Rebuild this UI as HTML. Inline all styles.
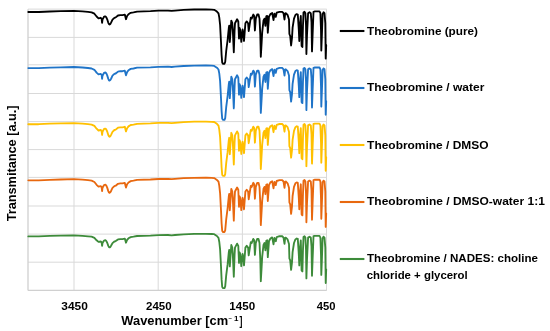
<!DOCTYPE html>
<html><head><meta charset="utf-8"><title>FTIR spectra</title><style>
html,body{margin:0;padding:0;background:#fff;width:550px;height:331px;overflow:hidden}
svg{display:block}
text{font-family:"Liberation Sans",sans-serif;fill:#000}
</style></head><body>
<svg width="550" height="331" viewBox="0 0 550 331">
<rect width="550" height="331" fill="#fff"/>
<g stroke="#d9d9d9" stroke-width="1" fill="none">
<line x1="28.0" y1="9.10" x2="326.7" y2="9.10"/>
<line x1="28.0" y1="37.40" x2="326.7" y2="37.40"/>
<line x1="28.0" y1="64.80" x2="326.7" y2="64.80"/>
<line x1="28.0" y1="93.50" x2="326.7" y2="93.50"/>
<line x1="28.0" y1="121.60" x2="326.7" y2="121.60"/>
<line x1="28.0" y1="149.60" x2="326.7" y2="149.60"/>
<line x1="28.0" y1="177.40" x2="326.7" y2="177.40"/>
<line x1="28.0" y1="206.00" x2="326.7" y2="206.00"/>
<line x1="28.0" y1="234.10" x2="326.7" y2="234.10"/>
<line x1="28.0" y1="262.20" x2="326.7" y2="262.20"/>
<line x1="74.0" y1="9.3" x2="74.0" y2="290.4"/>
<line x1="158.2" y1="9.3" x2="158.2" y2="290.4"/>
<line x1="242.4" y1="9.3" x2="242.4" y2="290.4"/>
<line x1="326.5" y1="9.3" x2="326.5" y2="290.4"/>
</g>
<g stroke="#d0d0d0" stroke-width="1.3" fill="none">
<line x1="28.0" y1="9.3" x2="28.0" y2="290.4"/>
<line x1="28.0" y1="290.4" x2="326.7" y2="290.4"/>
</g>
<g fill="none" stroke-width="1.85" stroke-linejoin="round" stroke-linecap="round">
<path d="M28.3,12.0 L38.7,12.0 L49.8,11.5 L60.7,11.2 L73.8,10.9 L82.5,11.4 L88.0,11.9 L91.6,12.4 L94.4,13.7 L96.6,16.5 L98.5,18.3 L100.7,17.8 L101.6,18.7 L102.1,22.8 L102.5,19.6 L103.9,16.9 L104.6,16.5 L105.4,16.4 L106.2,17.1 L107.2,19.3 L108.3,22.8 L109.0,24.2 L109.6,24.5 L110.3,24.0 L111.2,22.4 L112.5,19.6 L114.4,17.8 L115.7,17.4 L118.0,15.5 L120.3,15.1 L122.5,15.1 L124.8,14.6 L126.0,19.2 L127.1,16.0 L128.5,14.2 L130.7,12.8 L133.5,12.4 L137.1,11.6 L150.5,11.2 L158.5,10.7 L168.0,10.6 L171.6,10.9 L175.0,10.6 L183.6,9.9 L194.2,9.5 L206.0,9.4 L211.6,9.6 L214.2,9.8 L216.9,11.6 L218.5,13.4 L219.3,17.6 L220.1,25.0 L221.0,42.0 L221.6,55.0 L222.2,62.5 L222.9,63.7 L224.5,63.7 L225.2,62.0 L226.2,51.0 L227.6,40.0 L228.8,28.0 L229.2,25.6 L229.8,42.0 L231.3,20.6 L232.3,23.2 L232.8,30.0 L233.8,52.3 L234.6,30.0 L235.0,23.2 L237.1,19.2 L238.3,21.5 L239.0,38.5 L239.6,28.0 L240.3,30.0 L241.3,41.8 L242.6,29.5 L243.3,33.0 L244.0,41.0 L245.4,23.2 L246.7,21.4 L248.1,23.2 L248.7,31.0 L249.9,23.2 L250.8,17.7 L251.7,18.6 L253.3,14.5 L254.2,15.9 L254.9,30.5 L255.8,18.6 L257.2,14.5 L258.5,14.5 L259.5,18.6 L260.3,35.0 L260.8,56.8 L261.5,45.0 L262.2,32.3 L263.5,20.5 L264.5,18.6 L265.4,25.9 L266.3,16.4 L267.2,15.9 L267.8,32.7 L269.0,16.8 L270.4,14.1 L272.2,13.0 L273.5,20.0 L274.5,13.6 L275.8,16.8 L276.7,12.7 L279.5,11.8 L282.2,11.8 L283.5,13.2 L284.5,19.5 L285.2,13.5 L285.8,13.2 L287.6,15.0 L289.0,19.5 L289.4,34.0 L290.2,36.0 L291.1,45.5 L292.0,38.0 L292.6,27.7 L294.0,18.6 L295.4,15.0 L296.7,14.1 L297.8,14.5 L298.8,30.0 L299.3,41.0 L299.9,25.0 L300.8,16.0 L301.6,46.0 L302.4,47.0 L303.0,25.0 L303.5,12.5 L304.5,11.8 L305.4,13.2 L306.0,25.0 L306.4,54.0 L307.0,35.0 L308.1,13.2 L309.5,12.3 L310.8,13.2 L311.5,22.0 L312.0,51.4 L312.6,35.0 L313.5,11.8 L314.9,11.4 L319.5,11.4 L320.4,13.2 L321.0,30.0 L321.3,50.5 L321.9,35.0 L322.6,14.1 L323.5,12.3 L324.5,13.2 L325.3,23.2 L325.7,58.6 L326.2,45.0" stroke="#000000"/>
<path d="M28.3,68.1 L38.7,68.1 L49.8,67.6 L60.7,67.3 L73.8,67.0 L82.5,67.5 L88.0,68.0 L91.6,68.5 L94.4,69.8 L96.6,72.6 L98.5,74.4 L100.7,73.9 L101.6,74.8 L102.1,78.9 L102.5,75.7 L103.9,73.0 L104.6,72.6 L105.4,72.5 L106.2,73.2 L107.2,75.4 L108.3,78.9 L109.0,80.3 L109.6,80.6 L110.3,80.1 L111.2,78.5 L112.5,75.7 L114.4,73.9 L115.7,73.5 L118.0,71.6 L120.3,71.2 L122.5,71.2 L124.8,70.7 L126.0,75.3 L127.1,72.1 L128.5,70.3 L130.7,68.9 L133.5,68.5 L137.1,67.7 L150.5,67.3 L158.5,66.8 L168.0,66.7 L171.6,67.0 L175.0,66.7 L183.6,66.0 L194.2,65.6 L206.0,65.5 L211.6,65.7 L214.2,65.9 L216.9,67.7 L218.5,69.5 L219.3,73.7 L220.1,81.1 L221.0,98.1 L221.6,111.1 L222.2,118.6 L222.9,119.8 L224.5,119.8 L225.2,118.1 L226.2,107.1 L227.6,96.1 L228.8,84.1 L229.2,81.7 L229.8,98.1 L231.3,76.7 L232.3,79.3 L232.8,86.1 L233.8,108.4 L234.6,86.1 L235.0,79.3 L237.1,75.3 L238.3,77.6 L239.0,94.6 L239.6,84.1 L240.3,86.1 L241.3,97.9 L242.6,85.6 L243.3,89.1 L244.0,97.1 L245.4,79.3 L246.7,77.5 L248.1,79.3 L248.7,87.1 L249.9,79.3 L250.8,73.8 L251.7,74.7 L253.3,70.6 L254.2,72.0 L254.9,86.6 L255.8,74.7 L257.2,70.6 L258.5,70.6 L259.5,74.7 L260.3,91.1 L260.8,112.9 L261.5,101.1 L262.2,88.4 L263.5,76.6 L264.5,74.7 L265.4,82.0 L266.3,72.5 L267.2,72.0 L267.8,88.8 L269.0,72.9 L270.4,70.2 L272.2,69.1 L273.5,76.1 L274.5,69.7 L275.8,72.9 L276.7,68.8 L279.5,67.9 L282.2,67.9 L283.5,69.3 L284.5,75.6 L285.2,69.6 L285.8,69.3 L287.6,71.1 L289.0,75.6 L289.4,90.1 L290.2,92.1 L291.1,101.6 L292.0,94.1 L292.6,83.8 L294.0,74.7 L295.4,71.1 L296.7,70.2 L297.8,70.6 L298.8,86.1 L299.3,97.1 L299.9,81.1 L300.8,72.1 L301.6,102.1 L302.4,103.1 L303.0,81.1 L303.5,68.6 L304.5,67.9 L305.4,69.3 L306.0,81.1 L306.4,110.1 L307.0,91.1 L308.1,69.3 L309.5,68.4 L310.8,69.3 L311.5,78.1 L312.0,107.5 L312.6,91.1 L313.5,67.9 L314.9,67.5 L319.5,67.5 L320.4,69.3 L321.0,86.1 L321.3,106.6 L321.9,91.1 L322.6,70.2 L323.5,68.4 L324.5,69.3 L325.3,79.3 L325.7,114.7 L326.2,101.1" stroke="#1f74c8"/>
<path d="M28.3,124.2 L38.7,124.2 L49.8,123.7 L60.7,123.4 L73.8,123.1 L82.5,123.6 L88.0,124.1 L91.6,124.6 L94.4,125.9 L96.6,128.7 L98.5,130.5 L100.7,130.0 L101.6,130.9 L102.1,135.0 L102.5,131.8 L103.9,129.1 L104.6,128.7 L105.4,128.6 L106.2,129.3 L107.2,131.5 L108.3,135.0 L109.0,136.4 L109.6,136.7 L110.3,136.2 L111.2,134.6 L112.5,131.8 L114.4,130.0 L115.7,129.6 L118.0,127.7 L120.3,127.3 L122.5,127.3 L124.8,126.8 L126.0,131.4 L127.1,128.2 L128.5,126.4 L130.7,125.0 L133.5,124.6 L137.1,123.8 L150.5,123.4 L158.5,122.9 L168.0,122.8 L171.6,123.1 L175.0,122.8 L183.6,122.1 L194.2,121.7 L206.0,121.6 L211.6,121.8 L214.2,122.0 L216.9,123.8 L218.5,125.6 L219.3,129.8 L220.1,137.2 L221.0,154.2 L221.6,167.2 L222.2,174.7 L222.9,175.9 L224.5,175.9 L225.2,174.2 L226.2,163.2 L227.6,152.2 L228.8,140.2 L229.2,137.8 L229.8,154.2 L231.3,132.8 L232.3,135.4 L232.8,142.2 L233.8,164.5 L234.6,142.2 L235.0,135.4 L237.1,131.4 L238.3,133.7 L239.0,150.7 L239.6,140.2 L240.3,142.2 L241.3,154.0 L242.6,141.7 L243.3,145.2 L244.0,153.2 L245.4,135.4 L246.7,133.6 L248.1,135.4 L248.7,143.2 L249.9,135.4 L250.8,129.9 L251.7,130.8 L253.3,126.7 L254.2,128.1 L254.9,142.7 L255.8,130.8 L257.2,126.7 L258.5,126.7 L259.5,130.8 L260.3,147.2 L260.8,169.0 L261.5,157.2 L262.2,144.5 L263.5,132.7 L264.5,130.8 L265.4,138.1 L266.3,128.6 L267.2,128.1 L267.8,144.9 L269.0,129.0 L270.4,126.3 L272.2,125.2 L273.5,132.2 L274.5,125.8 L275.8,129.0 L276.7,124.9 L279.5,124.0 L282.2,124.0 L283.5,125.4 L284.5,131.7 L285.2,125.7 L285.8,125.4 L287.6,127.2 L289.0,131.7 L289.4,146.2 L290.2,148.2 L291.1,157.7 L292.0,150.2 L292.6,139.9 L294.0,130.8 L295.4,127.2 L296.7,126.3 L297.8,126.7 L298.8,142.2 L299.3,153.2 L299.9,137.2 L300.8,128.2 L301.6,158.2 L302.4,159.2 L303.0,137.2 L303.5,124.7 L304.5,124.0 L305.4,125.4 L306.0,137.2 L306.4,166.2 L307.0,147.2 L308.1,125.4 L309.5,124.5 L310.8,125.4 L311.5,134.2 L312.0,163.6 L312.6,147.2 L313.5,124.0 L314.9,123.6 L319.5,123.6 L320.4,125.4 L321.0,142.2 L321.3,162.7 L321.9,147.2 L322.6,126.3 L323.5,124.5 L324.5,125.4 L325.3,135.4 L325.7,170.8 L326.2,157.2" stroke="#ffc000"/>
<path d="M28.3,180.3 L38.7,180.3 L49.8,179.8 L60.7,179.5 L73.8,179.2 L82.5,179.7 L88.0,180.2 L91.6,180.7 L94.4,182.0 L96.6,184.8 L98.5,186.6 L100.7,186.1 L101.6,187.0 L102.1,191.1 L102.5,187.9 L103.9,185.2 L104.6,184.8 L105.4,184.7 L106.2,185.4 L107.2,187.6 L108.3,191.1 L109.0,192.5 L109.6,192.8 L110.3,192.3 L111.2,190.7 L112.5,187.9 L114.4,186.1 L115.7,185.7 L118.0,183.8 L120.3,183.4 L122.5,183.4 L124.8,182.9 L126.0,187.5 L127.1,184.3 L128.5,182.5 L130.7,181.1 L133.5,180.7 L137.1,179.9 L150.5,179.5 L158.5,179.0 L168.0,178.9 L171.6,179.2 L175.0,178.9 L183.6,178.2 L194.2,177.8 L206.0,177.7 L211.6,177.9 L214.2,178.1 L216.9,179.9 L218.5,181.7 L219.3,185.9 L220.1,193.3 L221.0,210.3 L221.6,223.3 L222.2,230.8 L222.9,232.0 L224.5,232.0 L225.2,230.3 L226.2,219.3 L227.6,208.3 L228.8,196.3 L229.2,193.9 L229.8,210.3 L231.3,188.9 L232.3,191.5 L232.8,198.3 L233.8,220.6 L234.6,198.3 L235.0,191.5 L237.1,187.5 L238.3,189.8 L239.0,206.8 L239.6,196.3 L240.3,198.3 L241.3,210.1 L242.6,197.8 L243.3,201.3 L244.0,209.3 L245.4,191.5 L246.7,189.7 L248.1,191.5 L248.7,199.3 L249.9,191.5 L250.8,186.0 L251.7,186.9 L253.3,182.8 L254.2,184.2 L254.9,198.8 L255.8,186.9 L257.2,182.8 L258.5,182.8 L259.5,186.9 L260.3,203.3 L260.8,225.1 L261.5,213.3 L262.2,200.6 L263.5,188.8 L264.5,186.9 L265.4,194.2 L266.3,184.7 L267.2,184.2 L267.8,201.0 L269.0,185.1 L270.4,182.4 L272.2,181.3 L273.5,188.3 L274.5,181.9 L275.8,185.1 L276.7,181.0 L279.5,180.1 L282.2,180.1 L283.5,181.5 L284.5,187.8 L285.2,181.8 L285.8,181.5 L287.6,183.3 L289.0,187.8 L289.4,202.3 L290.2,204.3 L291.1,213.8 L292.0,206.3 L292.6,196.0 L294.0,186.9 L295.4,183.3 L296.7,182.4 L297.8,182.8 L298.8,198.3 L299.3,209.3 L299.9,193.3 L300.8,184.3 L301.6,214.3 L302.4,215.3 L303.0,193.3 L303.5,180.8 L304.5,180.1 L305.4,181.5 L306.0,193.3 L306.4,222.3 L307.0,203.3 L308.1,181.5 L309.5,180.6 L310.8,181.5 L311.5,190.3 L312.0,219.7 L312.6,203.3 L313.5,180.1 L314.9,179.7 L319.5,179.7 L320.4,181.5 L321.0,198.3 L321.3,218.8 L321.9,203.3 L322.6,182.4 L323.5,180.6 L324.5,181.5 L325.3,191.5 L325.7,226.9 L326.2,213.3" stroke="#e8680f"/>
<path d="M28.3,236.4 L38.7,236.4 L49.8,235.9 L60.7,235.6 L73.8,235.3 L82.5,235.8 L88.0,236.3 L91.6,236.7 L94.4,237.9 L96.6,240.3 L98.5,241.9 L100.7,241.5 L101.6,242.3 L102.1,245.9 L102.5,243.1 L103.9,240.7 L104.6,240.3 L105.4,240.2 L106.2,240.9 L107.2,242.8 L108.3,245.9 L109.0,247.1 L109.6,247.4 L110.3,246.9 L111.2,245.5 L112.5,243.1 L114.4,241.5 L115.7,241.1 L118.0,239.4 L120.3,239.1 L122.5,239.1 L124.8,238.6 L126.0,242.7 L127.1,239.9 L128.5,238.3 L130.7,237.1 L133.5,236.7 L137.1,236.0 L150.5,235.6 L158.5,235.1 L168.0,235.0 L171.6,235.3 L175.0,235.0 L183.6,234.3 L194.2,233.9 L206.0,233.8 L211.6,234.0 L214.2,234.2 L216.9,236.0 L218.5,237.8 L219.3,242.0 L220.1,249.4 L221.0,266.4 L221.6,279.4 L222.2,286.9 L222.9,288.1 L224.5,288.1 L225.2,286.4 L226.2,275.4 L227.6,264.4 L228.8,252.4 L229.2,250.0 L229.8,266.4 L231.3,245.0 L232.3,247.6 L232.8,254.4 L233.8,276.7 L234.6,254.4 L235.0,247.6 L237.1,243.6 L238.3,245.9 L239.0,262.9 L239.6,252.4 L240.3,254.4 L241.3,266.2 L242.6,253.9 L243.3,257.4 L244.0,265.4 L245.4,247.6 L246.7,245.8 L248.1,247.6 L248.7,255.4 L249.9,247.6 L250.8,242.1 L251.7,243.0 L253.3,238.9 L254.2,240.3 L254.9,254.9 L255.8,243.0 L257.2,238.9 L258.5,238.9 L259.5,243.0 L260.3,259.4 L260.8,281.2 L261.5,269.4 L262.2,256.7 L263.5,244.9 L264.5,243.0 L265.4,250.3 L266.3,240.8 L267.2,240.3 L267.8,257.1 L269.0,241.2 L270.4,238.5 L272.2,237.4 L273.5,244.4 L274.5,238.0 L275.8,241.2 L276.7,237.1 L279.5,236.2 L282.2,236.2 L283.5,237.6 L284.5,243.9 L285.2,237.9 L285.8,237.6 L287.6,239.4 L289.0,243.9 L289.4,258.4 L290.2,260.4 L291.1,269.9 L292.0,262.4 L292.6,252.1 L294.0,243.0 L295.4,239.4 L296.7,238.5 L297.8,238.9 L298.8,254.4 L299.3,265.4 L299.9,249.4 L300.8,240.4 L301.6,270.4 L302.4,271.4 L303.0,249.4 L303.5,236.9 L304.5,236.2 L305.4,237.6 L306.0,249.4 L306.4,278.4 L307.0,259.4 L308.1,237.6 L309.5,236.7 L310.8,237.6 L311.5,246.4 L312.0,275.8 L312.6,259.4 L313.5,236.2 L314.9,235.8 L319.5,235.8 L320.4,237.6 L321.0,254.4 L321.3,274.9 L321.9,259.4 L322.6,238.5 L323.5,236.7 L324.5,237.6 L325.3,247.6 L325.7,283.0 L326.2,269.4" stroke="#3d8b3a"/>
</g>
<line x1="339.8" y1="31" x2="364.4" y2="31" stroke="#000000" stroke-width="2.1"/>
<line x1="339.8" y1="88" x2="364.4" y2="88" stroke="#1f74c8" stroke-width="2.1"/>
<line x1="339.8" y1="145" x2="364.4" y2="145" stroke="#ffc000" stroke-width="2.1"/>
<line x1="339.8" y1="202" x2="364.4" y2="202" stroke="#e8680f" stroke-width="2.1"/>
<line x1="339.8" y1="259" x2="364.4" y2="259" stroke="#3d8b3a" stroke-width="2.1"/>
<text x="366.99" y="34.50" font-size="11.8" font-weight="bold" textLength="111.00" lengthAdjust="spacingAndGlyphs">Theobromine (pure)</text>
<text x="367.00" y="91.10" font-size="11.8" font-weight="bold" textLength="117.40" lengthAdjust="spacingAndGlyphs">Theobromine / water</text>
<text x="367.13" y="148.60" font-size="11.8" font-weight="bold" textLength="121.39" lengthAdjust="spacingAndGlyphs">Theobromine / DMSO</text>
<text x="367.00" y="205.10" font-size="11.8" font-weight="bold" textLength="177.83" lengthAdjust="spacingAndGlyphs">Theobromine / DMSO-water 1:1</text>
<text x="367.05" y="262.20" font-size="11.8" font-weight="bold" textLength="170.98" lengthAdjust="spacingAndGlyphs">Theobromine / NADES: choline</text>
<text x="366.65" y="278.70" font-size="11.8" font-weight="bold" textLength="100.97" lengthAdjust="spacingAndGlyphs">chloride + glycerol</text>
<text x="61.25" y="310.10" font-size="10.8" font-weight="bold" textLength="26.54" lengthAdjust="spacingAndGlyphs">3450</text>
<text x="146.03" y="310.10" font-size="10.8" font-weight="bold" textLength="25.58" lengthAdjust="spacingAndGlyphs">2450</text>
<text x="229.33" y="310.10" font-size="10.8" font-weight="bold" textLength="25.83" lengthAdjust="spacingAndGlyphs">1450</text>
<text x="316.72" y="310.10" font-size="10.8" font-weight="bold" textLength="18.74" lengthAdjust="spacingAndGlyphs">450</text>
<text x="121.30" y="324.70" font-size="12.9" font-weight="bold" textLength="106.91" lengthAdjust="spacingAndGlyphs">Wavenumber [cm</text>
<text x="228.53" y="321.00" font-size="8" font-weight="normal" textLength="3.60" lengthAdjust="spacingAndGlyphs">−</text>
<text x="233.88" y="321.10" font-size="8" font-weight="bold">1</text>
<text x="239.50" y="324.70" font-size="12.9" font-weight="bold" textLength="2.93" lengthAdjust="spacingAndGlyphs">]</text>
<text transform="translate(16.40,221.34) rotate(-90)" font-size="12.9" font-weight="bold" textLength="115.88" lengthAdjust="spacingAndGlyphs">Transmitance [a.u.]</text>
</svg>
</body></html>
